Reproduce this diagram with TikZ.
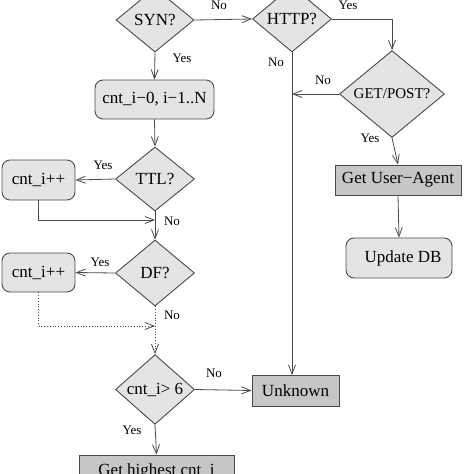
\documentclass[tikz,border=0pt]{standalone}
\usepackage{fontspec}
\setmainfont{Liberation Serif}
\usetikzlibrary{shapes.geometric,arrows.meta}
\definecolor{lightfill}{HTML}{E4E4E4}
\definecolor{darkfill}{HTML}{C6C6C6}
\definecolor{linecol}{HTML}{4A4A4A}
\begin{document}
\begin{tikzpicture}[x=1pt,y=-1pt,
  decision/.style={diamond,draw=linecol,fill=lightfill,line width=0.9pt,inner sep=0pt,font=\fontsize{17}{19}\selectfont},
  roundbox/.style={rectangle,rounded corners=8pt,draw=linecol,fill=lightfill,line width=0.9pt,inner sep=0pt,font=\fontsize{17}{19}\selectfont},
  darkbox/.style={rectangle,draw=linecol,fill=darkfill,line width=0.9pt,inner sep=0pt,font=\fontsize{17}{19}\selectfont},
  conn/.style={draw=linecol,line width=0.8pt,-{Straight Barb[length=9pt,width=7pt]}},
  plainconn/.style={draw=linecol,line width=0.8pt},
  lbl/.style={font=\fontsize{13}{15}\selectfont,inner sep=0pt}]
\useasboundingbox (0,0) rectangle (474,474);
\clip (0,0) rectangle (474,474);
% nodes
\node[decision,minimum width=78pt,minimum height=64pt] (syn) at (155,20) {SYN?};
\node[decision,minimum width=79pt,minimum height=66pt] (http) at (292,19) {HTTP?};
\node[decision,minimum width=105pt,minimum height=66pt,font=\fontsize{15}{17}\selectfont] (gp) at (392,94) {GET/POST?};
\node[darkbox,minimum width=126pt,minimum height=30pt] (gua) at (398,180) {Get User−Agent};
\node[roundbox,minimum width=106pt,minimum height=40pt] (udb) at (399,258) {\hspace{8pt}Update DB};
\node[roundbox,minimum width=119pt,minimum height=39pt] (c0) at (154.5,99.5) {cnt\_i−0, i−1..N};
\node[decision,minimum width=79pt,minimum height=64pt] (ttl) at (155,179) {TTL?};
\node[roundbox,minimum width=73pt,minimum height=40pt] (inc1) at (38.5,180) {cnt\_i++};
\node[decision,minimum width=79pt,minimum height=66pt] (df) at (155,273) {DF?};
\node[roundbox,minimum width=73pt,minimum height=39pt] (inc2) at (38.5,272.5) {cnt\_i++};
\node[decision,minimum width=79pt,minimum height=65pt] (gt) at (155,389.5) {cnt\_i> 6};
\node[darkbox,minimum width=87pt,minimum height=31pt] (unk) at (295.5,390.5) {Unknown};
\node[darkbox,minimum width=155pt,minimum height=32pt] (gh) at (156.5,471) {Get highest cnt\_i};
% junction coordinates
\coordinate (j1) at (292,94);
\coordinate (m1) at (155,220);
\coordinate (m2) at (155,326);
\coordinate (u1) at (292,375);
% connectors
\draw[conn] (syn.east) -- (http.west);
\draw[conn] (http.east) -| (gp.north);
\draw[conn] (gp.west) -- (j1);
\draw[conn] (http.south) -- (u1);
\draw[conn] (gp.south) -- (gua.north);
\draw[conn] (gua.south) -- (udb.north);
\draw[conn] (syn.south) -- (c0.north);
\draw[conn] (c0.south) -- (ttl.north);
\draw[conn] (ttl.west) -- (inc1.east);
\draw[conn] (inc1.south) |- (m1);
\draw[conn] (ttl.south) -- (df.north);
\draw[conn] (df.west) -- (inc2.east);
\draw[conn,dotted] (inc2.south) |- (m2);
\draw[conn,dotted] (df.south) -- (gt.north);
\draw[conn] (gt.east) -- (unk.west);
\draw[conn] (gt.south) -- (gh.north);
% labels
\node[lbl] (l1) at (219,5) {No};
\node[lbl] (l2) at (348,5) {Yes};
\node[lbl] (l3) at (276,62) {No};
\node[lbl] (l4) at (323,80) {No};
\node[lbl] (l5) at (370,138) {Yes};
\node[lbl] (l6) at (182,58) {Yes};
\node[lbl] (l7) at (103,165) {Yes};
\node[lbl] (l8) at (172,221) {No};
\node[lbl] (l9) at (100,262) {Yes};
\node[lbl] (l10) at (172,315) {No};
\node[lbl] (l11) at (214,373) {No};
\node[lbl] (l12) at (132,430) {Yes};
\end{tikzpicture}
\end{document}
